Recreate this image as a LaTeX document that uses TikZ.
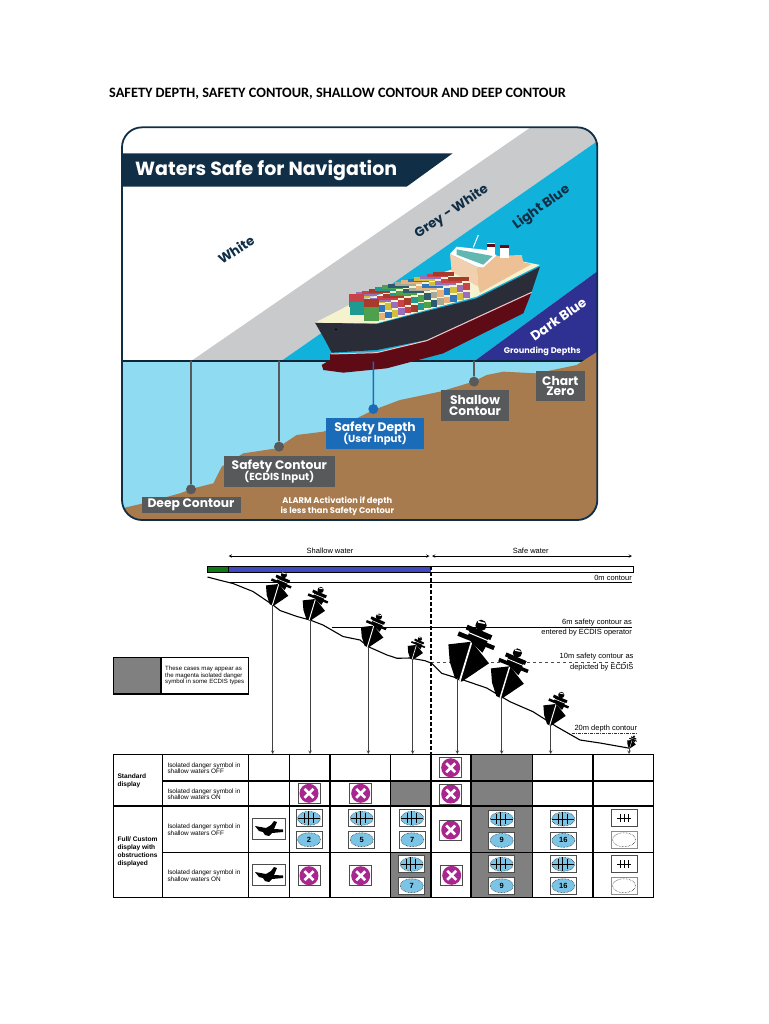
\documentclass[tikz,border=0pt]{standalone}
\usepackage{fontspec}
\usepackage{tikz}
\usetikzlibrary{positioning}
\setmainfont{Liberation Sans}
\newfontfamily\titlefont{Carlito}
\newfontfamily\posterfont{Poppins}

\definecolor{navy}{HTML}{102F47}
\definecolor{bandgrey}{HTML}{C9CACC}
\definecolor{lightblue}{HTML}{10B2DC}
\definecolor{darkblue}{HTML}{2E3192}
\definecolor{shoalwater}{HTML}{8FDCF2}
\definecolor{seabed}{HTML}{A87B4F}
\definecolor{tagegrey}{HTML}{58595B}
\definecolor{tagblue}{HTML}{1B6CB8}
\definecolor{hullblack}{HTML}{2A2D38}
\definecolor{hullred}{HTML}{5E0B16}
\definecolor{deckcream}{HTML}{F7F2CE}
\definecolor{cellgrey}{HTML}{808080}
\definecolor{dangermagenta}{HTML}{A8278E}
\definecolor{soundblue}{HTML}{7CC4E6}
\definecolor{barblue}{HTML}{4049C0}
\definecolor{bargreen}{HTML}{0E7A16}
\definecolor{cargo0}{HTML}{2F75C0}
\definecolor{cargo1}{HTML}{C8424A}
\definecolor{cargo2}{HTML}{4FA04C}
\definecolor{cargo3}{HTML}{E8B07A}
\definecolor{cargo4}{HTML}{9A6FBA}
\definecolor{cargo5}{HTML}{1F9A90}
\definecolor{cargo6}{HTML}{A9A996}
\definecolor{cargo7}{HTML}{D2BE3C}
\definecolor{cargo8}{HTML}{A83A2C}
\definecolor{cargo9}{HTML}{2E5A6F}

\newcommand{\cargoface}[3]{%
  \foreach \i in {1,...,#1}{
    \foreach \j in {1,...,#2}{
      \pgfmathtruncatemacro{\cidx}{mod(\i*7+\j*#3,10)}
      \fill[cargo\cidx] (\i-1,\j-1) rectangle (\i,\j);
    }
  }
}

\tikzset{
  shipicon/.pic={
    \fill[black] (-40,-107) -- (30,-115) -- (82,-50) -- (0,5) -- (-20,-5) -- (-36,-55) -- cycle;
    \fill[white] (27,-114) -- (32,-113) -- (-3,3) -- (-8,1) -- cycle;
    \fill[black] (22,-126) -- (74,-103) -- (62,-82) -- (30,-112) -- cycle;
    \fill[black] (-8,-146) -- (100,-102) -- (95,-90) -- (-13,-133) -- cycle;
    \fill[black] (18,-166) -- (92,-134) -- (86,-120) -- (12,-152) -- cycle;
    \fill[black] (26,-156) -- (82,-130) -- (74,-106) -- (18,-130) -- cycle;
    \fill[black] (58,-164) circle (17);
    \fill[white] (48,-178) -- (70,-172) -- (70,-168) -- (50,-172) -- cycle;
    \fill[white] (14,-147) -- (88,-116) -- (87,-113) -- (13,-144) -- cycle;
  }
}

\begin{document}
\begin{tikzpicture}[x=1pt,y=-1pt,
                cellrule/.style={line width=1.3pt, black},
                tagnode/.style={rectangle, fill=tagegrey, text=white, font=\posterfont\bfseries\fontsize{12.3}{12.3}\selectfont, align=center, inner sep=0pt},
                pindot/.style={circle, fill=tagegrey, inner sep=0pt, minimum size=10pt},
                pinline/.style={line width=1.6pt, draw=tagegrey},
                slanttext/.style={font=\posterfont\bfseries\fontsize{13.2}{14}\selectfont, text=navy},
                smalltext/.style={font=\fontsize{6.4}{6.8}\selectfont, align=left, inner sep=0pt, text=black},
                chartnote/.style={font=\fontsize{7.5}{8}\selectfont, inner sep=0pt, text=black},
                symbolbox/.style={rectangle, draw=black!70, fill=white, line width=.8pt, inner sep=0pt},
                dangernode/.style={symbolbox, minimum width=22pt, minimum height=20pt,
                    path picture={
                        \fill[dangermagenta] (path picture bounding box.center) circle (9.5pt);
                        \draw[white, line width=2.6pt, shift={(path picture bounding box.center)}] (-4.5,-4.5) -- (4.5,4.5) (-4.5,4.5) -- (4.5,-4.5);
                    }},
                wrecknode/.style={symbolbox, minimum width=33pt, minimum height=21pt,
                    path picture={
                        \fill[black, shift={(path picture bounding box.center)}] (-14,-3) -- (-3,-1) -- (2,-4) -- (5,-8) -- (8,-7) -- (5,0) -- (14,0.5) -- (14,3) -- (3,4) -- (0,7) -- (-4,6) -- (-6,3) -- (-10,2) -- cycle;
                    }},
                hatchnode/.style={symbolbox, minimum width=26pt, minimum height=17pt,
                    path picture={
                        \begin{scope}[shift={(path picture bounding box.center)}]
                        \fill[soundblue] (0,0) ellipse (11.5pt and 7pt);
                        \draw[black, densely dotted, line width=.5pt] (0,0) ellipse (11.5pt and 7pt);
                        \draw[black, line width=.9pt] (-11,0) -- (11,0) (-5,-5) -- (-5,5) (-1,-7) -- (-1,7) (4,-5) -- (4,5);
                        \end{scope}
                    }},
                ticknode/.style={symbolbox, minimum width=26pt, minimum height=17pt,
                    path picture={
                        \draw[black, line width=.9pt, shift={(path picture bounding box.center)}] (-7,0) -- (7,0) (-4,-4) -- (-4,4) (0,-4) -- (0,4) (4,-4) -- (4,4);
                    }},
                depthnode/.style={symbolbox, minimum width=26pt, minimum height=17pt, font=\bfseries\fontsize{7.5}{7.5}\selectfont,
                    path picture={
                        \fill[soundblue] (path picture bounding box.center) ellipse (11.5pt and 7pt);
                        \draw[black, densely dotted, line width=.5pt] (path picture bounding box.center) ellipse (11.5pt and 7pt);
                    }},
                emptynode/.style={symbolbox, draw=black!45, minimum width=26pt, minimum height=17pt,
                    path picture={
                        \draw[black, densely dotted, line width=.5pt] (path picture bounding box.center) ellipse (11.5pt and 7pt);
                    }},
            ]
            \useasboundingbox (0,0) rectangle (768,1024);

            % Title
            \node[anchor=base west, inner sep=0pt, font=\titlefont\bfseries\fontsize{14.3}{15}\selectfont] (page_title) at (109,98) {SAFETY DEPTH, SAFETY CONTOUR, SHALLOW CONTOUR AND DEEP CONTOUR};

            % Poster
            \begin{scope}[shift={(110,120)},scale=1/3]
                \begin{scope}
                    \clip[rounded corners=20pt] (36,22) rectangle (1462,1200);
                    \fill[shoalwater] (36,722) rectangle (1462,1200);
                    \fill[bandgrey] (245,722) -- (1262,22) -- (1500,22) -- (1500,37) -- (515,722) -- cycle;
                    \fill[lightblue] (515,722) -- (1500,37) -- (1500,426) -- (1095,722) -- cycle;
                    \fill[darkblue] (1095,722) -- (1500,426) -- (1500,722) -- cycle;
                    \fill[navy] (36,100) -- (1028,100) -- (890,200) -- (36,200) -- cycle;
                    \draw[line width=2pt, navy!80!black] (36,722) -- (1425,722);
                    \fill[seabed] (36,1165) -- (100,1150) -- (210,1120) -- (250,1105) -- (310,1090) -- (335,1040) -- (400,1000) -- (500,985) -- (560,945) -- (640,935) -- (740,895) -- (790,870) -- (870,840) -- (990,815) -- (1090,785) -- (1130,765) -- (1180,755) -- (1280,760) -- (1400,735) -- (1462,695) -- (1462,1200) -- (36,1200) -- cycle;
                \end{scope}

                \draw[line width=1.8pt, navy, rounded corners=20pt] (36,22) rectangle (1462,1200);

                % Ship
                \begin{scope}[shift={(600,330)}]
                    \fill[hullred] (60,372) -- (200,368) -- (350,332) -- (665,186) -- (640,250) -- (400,370) -- (230,415) -- (100,428) -- (40,420) -- (35,405) -- (60,390) -- cycle;
                    \fill[hullblack] (15,278) -- (200,282) -- (500,205) -- (690,110) -- (665,185) -- (350,330) -- (200,360) -- (65,368) -- (45,330) -- cycle;
                    \draw[line width=1pt, red!25!white] (62,372) -- (200,368) -- (350,332) -- (665,187);
                    \fill[deckcream] (15,278) -- (118,225) -- (420,120) -- (640,95) -- (690,105) -- (500,200) -- (200,280) -- cycle;
                    \fill[cargo3!80!white] (500,110) -- (550,78) -- (635,75) -- (640,97) -- (665,102) -- (510,188) -- (505,170) -- cycle;
                    \fill[white] (440,50) -- (530,60) -- (560,76) -- (520,112) -- (500,110) -- (420,72) -- cycle;
                    \fill[cargo5!70!white] (440,58) -- (548,78) -- (520,104) -- (440,74) -- cycle;
                    \fill[cargo3!60!white] (420,72) -- (500,110) -- (505,170) -- (425,125) -- cycle;
                    \draw[white, line width=1pt] (490,52) -- (505,15);
                    \fill[white] (530,40) rectangle (555,75);
                    \fill[white] (570,44) rectangle (598,85);
                    \fill[hullred] (530,42) rectangle (555,50);
                    \fill[hullred] (570,46) rectangle (598,54);
                    \begin{scope}[shift={(118,192)},x={(19.4pt,5.1pt)},y={(43.5pt,-16.5pt)}]
                        \cargoface{14}{2}{0}
                    \end{scope}
                    \begin{scope}[shift={(205,225)},x={(19.6pt,5pt)},y={(.4pt,-25pt)}]
                        \cargoface{14}{2}{3}
                    \end{scope}
                    \begin{scope}[shift={(118,192)},x={(43.5pt,-16.5pt)},y={(1.5pt,-24pt)}]
                        \cargoface{2}{2}{4}
                    \end{scope}
                    \node[circle, fill=black, inner sep=.7pt] (hawse_hole) at (78,298) {};
                \end{scope}

                % Poster labels
                \node[font=\posterfont\bfseries\fontsize{19}{20}\selectfont, text=white, inner sep=0pt, anchor=base west] (poster_title) at (75,168) {Waters Safe for Navigation};
                \node[slanttext, rotate=33] (white_label) at (378,388) {White};
                \node[slanttext, rotate=34] (grey_label) at (1025,275) {Grey - White};
                \node[slanttext, rotate=35] (light_label) at (1295,262) {Light Blue};
                \node[slanttext, rotate=35, text=white] (dark_label) at (1345,597) {Dark Blue};
                \node[font=\posterfont\bfseries\fontsize{8.2}{8.4}\selectfont, text=white, inner sep=0pt] (grounding_label) at (1297,695) {Grounding Depths};

                \node[tagnode, minimum width=99pt, minimum height=16.5pt] (deep_tag) at (243,1155) {Deep Contour};
                \node[tagnode, minimum width=111pt, minimum height=31.5pt] (safety_tag) at (508,1055) {Safety Contour\\[-2pt]{\fontsize{10.2}{10.4}\selectfont (ECDIS Input)}};
                \node[tagnode, fill=tagblue, minimum width=98pt, minimum height=31.5pt] (depth_tag) at (795,940) {Safety Depth\\[-2pt]{\fontsize{10.2}{10.4}\selectfont (User Input)}};
                \node[tagnode, minimum width=67.5pt, minimum height=31.5pt] (shallow_tag) at (1095,857) {Shallow\\[-1pt]Contour};
                \node[tagnode, minimum width=49pt, minimum height=30pt] (zero_tag) at (1351,797) {Chart\\[-2pt]Zero};
                \node[font=\posterfont\bfseries\fontsize{8.3}{8.4}\selectfont, text=white, align=center, inner sep=0pt] (alarm_note) at (682,1160) {ALARM Activation if depth\\is less than Safety Contour};

                \coordinate (deep_top) at (243,722);
                \coordinate (safety_top) at (507,722);
                \coordinate (depth_top) at (790,725);
                \coordinate (shallow_top) at (1092,722);
                \node[pindot] (deep_dot) at (243,1108) {};
                \node[pindot] (safety_dot) at (507,980) {};
                \node[pindot, fill=tagblue] (depth_dot) at (790,867) {};
                \node[pindot] (shallow_dot) at (1092,785) {};
                \draw[pinline] (deep_top) -- (deep_dot);
                \draw[pinline] (safety_top) -- (safety_dot);
                \draw[pinline, draw=tagblue] (depth_top) -- (depth_dot);
                \draw[pinline] (shallow_top) -- (shallow_dot);
            \end{scope}

            % Depth bar
            \fill[bargreen] (207.7,566) rectangle (228.7,572.7);
            \fill[barblue] (228.7,566) rectangle (431,572.7);
            \draw[line width=1pt] (207.7,566) rectangle (633.7,572.7) (228.7,566) -- (228.7,572.7);

            \coordinate (shallow_left) at (228.7,556);
            \coordinate (shallow_right) at (429.5,556);
            \coordinate (safe_left) at (432,556);
            \coordinate (safe_right) at (632,556);
            \draw[<->, line width=.5pt, >=stealth] (shallow_left) -- (shallow_right);
            \draw[<->, line width=.5pt, >=stealth] (safe_left) -- (safe_right);
            \node[chartnote] (shallow_water) at (330,551) {Shallow water};
            \node[chartnote] (safe_water) at (530.7,551) {Safe water};

            % Contour lines
            \draw[line width=.8pt] (228,582.3) -- (632,582.3);
            \draw[line width=.8pt] (331.7,627.7) -- (632,627.7);
            \draw[line width=1pt, dashed, black!70] (431,662.3) -- (633.7,662.3);
            \draw[line width=1pt, densely dashdotted, black!80] (572.3,733.3) -- (637.3,733.3);
            \draw[line width=1.1pt] (207.5,577) -- (217,579.5) -- (233,583.5) -- (253,591.5) -- (273,605) -- (280,610.5) -- (297,616.5) -- (310,620) -- (323,625) -- (343,636.5) -- (360,640) -- (368.3,646.7) -- (387,655) -- (397,658.3) -- (410,658) -- (425,660.7) -- (431.7,663.3) -- (441.7,673.3) -- (463.3,680) -- (486.7,688) -- (510,701.7) -- (533,711.7) -- (556.7,726.7) -- (580,740) -- (600,743) -- (630,748.3);

            \node[chartnote, anchor=east] (zero_note) at (632,578) {0m contour};
            \node[chartnote, anchor=east] (six_note) at (632,622.7) {6m safety contour as};
            \node[chartnote, anchor=east] (entered_note) at (632,632.3) {entered by ECDIS operator};
            \node[chartnote, anchor=east] (ten_note) at (633.7,657) {10m safety contour as};
            \node[chartnote, anchor=east] (depicted_note) at (633.7,667.7) {depicted by ECDIS};
            \node[chartnote, anchor=east] (twenty_note) at (637.3,728.5) {20m depth contour};

            % Ships
            \pic[scale=.183] at (273.3,605) {shipicon};
            \pic[scale=.183] at (310,620) {shipicon};
            \pic[scale=.183] at (368.3,646.7) {shipicon};
            \pic[scale=.125] at (412.7,659.3) {shipicon};
            \pic[scale=.333] at (461.7,680) {shipicon};
            \pic[scale=.27] at (501.7,697.3) {shipicon};
            \pic[scale=.183] at (550.7,725) {shipicon};
            \pic[scale=.07] at (630,748) {shipicon};

            % Table cells
            \fill[cellgrey] (471,754.7) rectangle (532.3,806);
            \fill[cellgrey] (390.7,781) rectangle (430.7,806);
            \fill[cellgrey] (471,806) rectangle (532.3,897.7);
            \fill[cellgrey] (390.7,852.3) rectangle (430.7,897.7);
            \draw[cellrule] (113.3,754.7) rectangle (653.3,897.7);
            \draw[cellrule] (162.3,781) -- (653.3,781);
            \draw[cellrule] (113.3,806) -- (653.3,806);
            \draw[cellrule] (162.3,852.3) -- (653.3,852.3);
            \foreach \colx in {162.3,248.7,289.3,330,390.7,471,532.3,593}
                \draw[cellrule] (\colx,754.7) -- (\colx,897.7);

            \draw[line width=1.4pt, dash pattern=on 4pt off 2pt] (431,566) -- (431,754);
            \draw[line width=1.6pt] (430.7,754) -- (430.7,897.7);

            % Drop lines
            \foreach \dropname/\dropx/\dropy in {a/272.7/605,b/310/620,c/368.3/647,d/412.7/659,e/457.3/678,f/501.7/697,g/550.7/725,h/629/748}{
                \coordinate (keel_\dropname) at (\dropx,\dropy);
                \coordinate (cell_\dropname) at (\dropx,754);
                \draw[->, line width=.6pt, >=stealth, black!75] (keel_\dropname) -- (cell_\dropname);
            }

            % Legend
            \fill[cellgrey] (113.3,657.3) rectangle (161,694);
            \draw[line width=1.2pt] (113.3,657.3) rectangle (248.3,694) (161,657.3) -- (161,694);
            \node[smalltext, anchor=west, font=\fontsize{6.1}{6.2}\selectfont] (legend_note) at (165,675.5) {These cases may appear as\\the magenta isolated danger\\symbol in some ECDIS types};

            % Row labels
            \node[smalltext, anchor=west, font=\bfseries\fontsize{6.6}{8.3}\selectfont] (standard_label) at (117.3,781) {Standard\\display};
            \node[smalltext, anchor=west, font=\bfseries\fontsize{6.6}{8.1}\selectfont] (full_label) at (117.3,852) {Full/ Custom\\display with\\obstructions\\displayed};
            \node[smalltext, anchor=west] (row_label_1) at (167.3,768.3) {Isolated danger symbol in\\shallow waters OFF};
            \node[smalltext, anchor=west] (row_label_2) at (167.3,794.2) {Isolated danger symbol in\\shallow waters ON};
            \node[smalltext, anchor=west] (row_label_3) at (167.3,830) {Isolated danger symbol in\\shallow waters OFF};
            \node[smalltext, anchor=west] (row_label_4) at (167.3,876) {Isolated danger symbol in\\shallow waters ON};

            % Symbols
            \node[dangernode] (danger_1) at (450.7,767.7) {};
            \node[dangernode] (danger_2) at (309,793.3) {};
            \node[dangernode] (danger_3) at (360.7,793.3) {};
            \node[dangernode] (danger_4) at (450.7,794) {};
            \node[dangernode] (danger_5) at (450.7,830) {};
            \node[dangernode] (danger_6) at (309,875.7) {};
            \node[dangernode] (danger_7) at (360.7,875.7) {};
            \node[dangernode] (danger_8) at (451.7,875.3) {};
            \node[wrecknode] (wreck_1) at (269,829) {};
            \node[wrecknode] (wreck_2) at (269,875) {};

            \node[hatchnode] (hatch_1) at (309,818.3) {};
            \node[depthnode] (sound_1) [below=3.6pt of hatch_1] {2};
            \node[hatchnode] (hatch_2) at (361.7,818.3) {};
            \node[depthnode] (sound_2) [below=3.6pt of hatch_2] {5};
            \node[hatchnode] (hatch_3) at (412.3,818.3) {};
            \node[depthnode] (sound_3) [below=3.6pt of hatch_3] {7};
            \node[hatchnode] (hatch_4) at (501.7,819) {};
            \node[depthnode] (sound_4) [below=3.6pt of hatch_4] {9};
            \node[hatchnode] (hatch_5) at (563.3,819) {};
            \node[depthnode] (sound_5) [below=3.6pt of hatch_5] {16};
            \node[ticknode] (tick_1) at (624,818.3) {};
            \node[emptynode] (blank_1) [below=3.6pt of tick_1] {};

            \node[hatchnode] (hatch_6) at (411.7,864.3) {};
            \node[depthnode] (sound_6) [below=3.6pt of hatch_6] {7};
            \node[hatchnode] (hatch_7) at (501.7,864.3) {};
            \node[depthnode] (sound_7) [below=3.6pt of hatch_7] {9};
            \node[hatchnode] (hatch_8) at (563.3,864.3) {};
            \node[depthnode] (sound_8) [below=3.6pt of hatch_8] {16};
            \node[ticknode] (tick_2) at (624,864.3) {};
            \node[emptynode] (blank_2) [below=3.6pt of tick_2] {};
        \end{tikzpicture}
\end{document}
